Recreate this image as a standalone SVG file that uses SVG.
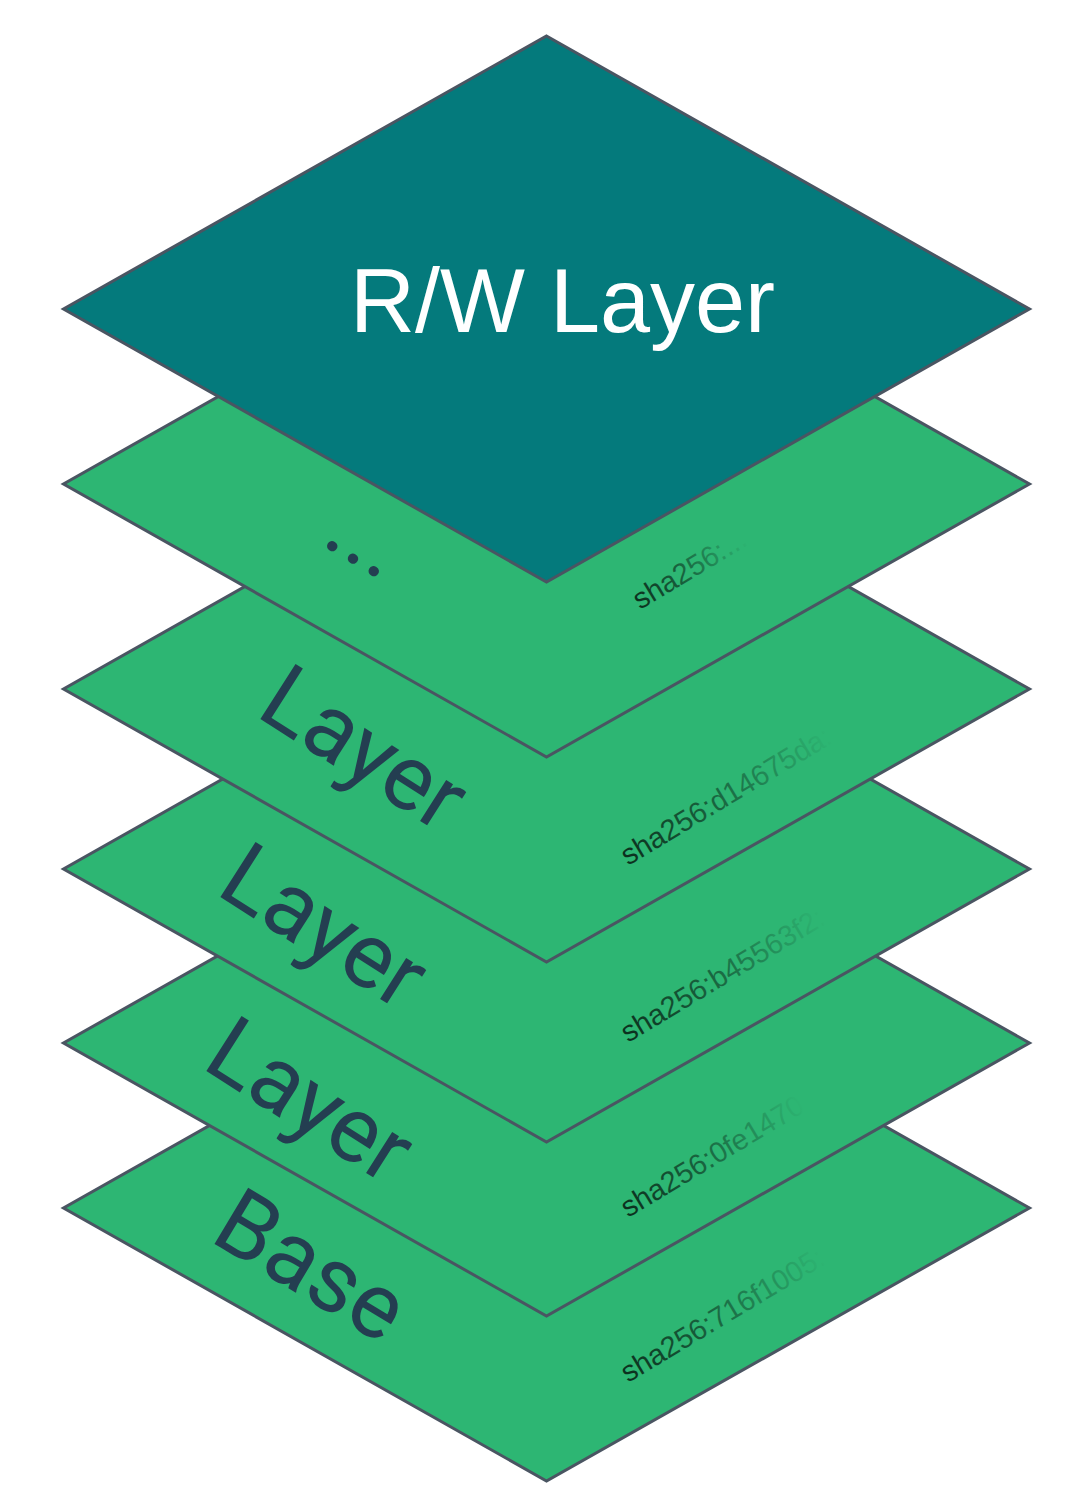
<svg xmlns="http://www.w3.org/2000/svg" width="1092" height="1508" viewBox="0 0 1092 1508">
<defs>
<linearGradient id="fade" x1="0" y1="0" x2="1" y2="0">
<stop offset="0" stop-color="#000" stop-opacity="0.75"/>
<stop offset="0.45" stop-color="#000" stop-opacity="0.45"/>
<stop offset="1" stop-color="#000" stop-opacity="0"/>
</linearGradient>
<style>
.layer{fill:#2db673;stroke:#4a5562;stroke-width:3;stroke-linejoin:miter}
.top{fill:#047a7c;stroke:#4a5562;stroke-width:3}
.lbl{font-family:Roboto,"Open Sans",sans-serif;font-size:92px;fill:#243e51}
.sha{font-family:"Liberation Sans",Arial,sans-serif;font-size:29px;fill:url(#fade)}
.rw{font-family:"Liberation Sans",Arial,sans-serif;font-size:90px;fill:#ffffff}
</style>
</defs>
<rect width="1092" height="1508" fill="#ffffff"/>
<g id="base">
<polygon class="layer" points="546.5,935 1029.5,1208 546.5,1481 63.5,1208"/>
<text class="lbl" transform="translate(208,1240) rotate(31)">Base</text>
<text class="sha" transform="translate(628,1383) rotate(-31)">sha256:716f1005:</text>
</g>
<g id="layer1">
<polygon class="layer" points="546.5,770 1029.5,1043 546.5,1316 63.5,1043"/>
<text class="lbl" transform="translate(200,1067) rotate(32.5)">Layer</text>
<text class="sha" transform="translate(628,1218) rotate(-31)">sha256:0fe1470</text>
</g>
<g id="layer2">
<polygon class="layer" points="546.5,596 1029.5,869 546.5,1142 63.5,869"/>
<text class="lbl" transform="translate(214,893) rotate(32.5)">Layer</text>
<text class="sha" transform="translate(628,1043) rotate(-31)">sha256:b45563f2:</text>
</g>
<g id="layer3">
<polygon class="layer" points="546.5,416 1029.5,689 546.5,962 63.5,689"/>
<text class="lbl" transform="translate(254,715) rotate(32.5)">Layer</text>
<text class="sha" transform="translate(628,866) rotate(-31)">sha256:d14675da:</text>
</g>
<g id="layer-more">
<polygon class="layer" points="546.5,211 1029.5,484 546.5,757 63.5,484"/>
<text class="lbl" transform="translate(320,544) rotate(31)">...</text>
<text class="sha" transform="translate(640,610) rotate(-31)">sha256:...</text>
</g>
<g id="rw-layer">
<polygon class="top" points="546.5,36 1029.5,309 546.5,582 63.5,309"/>
<text class="rw" x="350" y="332">R/W Layer</text>
</g>
<g id="connectors"/>
</svg>
